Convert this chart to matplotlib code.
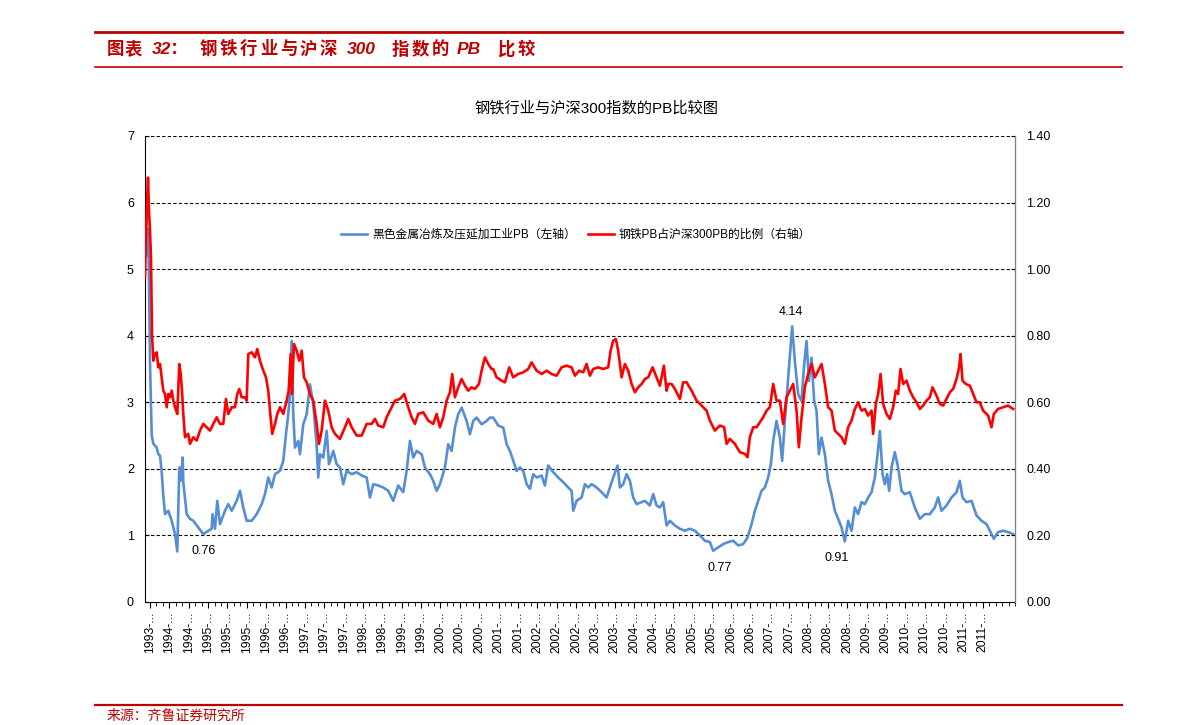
import matplotlib
matplotlib.use("Agg")
import matplotlib.pyplot as plt
import numpy as np
from matplotlib.lines import Line2D

plt.rcParams['font.family'] = ['Liberation Sans', 'Noto Sans CJK SC']
plt.rcParams['axes.unicode_minus'] = False

# ---------------- data ----------------
# t: trading-period index along the category axis
blue_t = [1.0, 2.5, 3.3, 4.3, 5.0, 6.7, 8.3, 11.7, 13.3, 15.0, 16.7, 18.3, 20.0, 23.3, 26.7, 30.0,
          32.3, 34.3, 35.7, 37.7, 38.3, 41.7, 45.0, 48.3, 53.3, 58.3, 63.3, 66.7, 67.5, 70.0, 72.3,
          75.0, 80.0, 83.3, 86.7, 91.7, 95.0, 98.3, 101.7, 106.7, 111.7, 116.7, 120.0, 123.3, 126.7,
          130.0, 135.0, 138.3, 141.0, 143.3, 145.0, 146.7, 148.3, 150.0, 153.3, 155.0, 158.3, 161.7,
          165.0, 168.3, 171.7, 173.3, 175.0, 178.3, 181.7, 184.0, 188.3, 191.7, 195.0, 198.3, 201.7,
          206.7, 211.7, 216.7, 221.7, 225.0, 228.3, 233.3, 238.3, 243.3, 248.3, 253.3, 258.3, 261.7,
          265.0, 268.3, 271.7, 276.7, 280.0, 285.0, 288.3, 291.7, 295.0, 300.0, 303.3, 306.7, 310.0,
          313.3, 316.7, 321.7, 325.0, 328.3, 331.7, 336.7, 341.7, 345.0, 348.3, 353.3, 358.3, 361.7,
          365.0, 368.3, 371.7, 375.0, 378.3, 381.7, 385.0, 388.3, 391.7, 396.7, 400.0, 403.3, 408.3,
          413.3, 418.3, 423.3, 426.7, 428.3, 431.7, 436.7, 440.0, 443.3, 446.7, 451.7, 456.7, 461.7,
          465.0, 468.3, 472.7, 475.0, 478.3, 481.7, 485.0, 488.3, 491.7, 496.7, 500.0, 505.0, 508.3,
          511.7, 515.0, 518.3, 521.7, 525.0, 530.0, 535.0, 540.0, 545.0, 550.0, 555.0, 560.0, 565.0,
          568.3, 573.3, 578.3, 583.3, 588.3, 593.3, 598.3, 602.7, 606.7, 610.0, 613.3, 616.7, 620.0,
          623.3, 626.0, 628.3, 631.7, 635.0, 637.3, 640.0, 643.3, 646.0, 647.3, 650.0, 653.3, 656.7,
          659.3, 661.7, 664.0, 666.7, 669.3, 671.7, 674.0, 676.7, 680.0, 683.3, 686.7, 690.0, 693.3,
          696.7, 700.0, 703.3, 706.7, 710.0, 713.3, 716.7, 720.0, 723.3, 726.7, 730.0, 732.7, 735.0,
          737.7, 740.0, 742.3, 744.3, 746.7, 750.0, 753.3, 756.7, 760.0, 765.0, 770.0, 775.0, 780.0,
          785.0, 790.0, 793.3, 796.7, 801.7, 806.7, 811.7, 815.0, 817.7, 821.7, 826.7, 831.7, 836.7,
          841.7, 846.7, 849.0, 853.3, 858.3, 863.3, 868.3]
steel_pb = [5.78, 5.2, 5.6, 4.5, 3.6, 2.5, 2.38, 2.32, 2.22, 2.2, 1.95, 1.6, 1.32, 1.37, 1.22, 1.02,
            0.76, 2.02, 1.82, 2.17, 1.8, 1.32, 1.25, 1.22, 1.12, 1.02, 1.07, 1.1, 1.32, 1.1, 1.52,
            1.17, 1.37, 1.47, 1.37, 1.52, 1.67, 1.42, 1.22, 1.22, 1.32, 1.47, 1.62, 1.87, 1.72,
            1.92, 1.97, 2.12, 2.52, 2.82, 3.12, 3.92, 2.82, 2.32, 2.42, 2.22, 2.67, 2.82,
            3.27, 2.97, 2.35, 1.87, 2.22, 2.17, 2.57, 2.07, 2.27, 2.07, 2.02, 1.77, 1.97,
            1.92, 1.95, 1.9, 1.87, 1.57, 1.77, 1.75, 1.72, 1.67, 1.52, 1.75, 1.65, 1.97,
            2.42, 2.17, 2.27, 2.22, 2.02, 1.92, 1.82, 1.67, 1.77, 2.02, 2.37, 2.27, 2.62,
            2.82, 2.92, 2.72, 2.52, 2.72, 2.77, 2.67, 2.72, 2.77, 2.77, 2.65, 2.62, 2.37,
            2.27, 2.12, 1.97, 2.02, 1.97, 1.77, 1.7, 1.92, 1.87, 1.9, 1.75, 2.05, 1.95,
            1.87, 1.8, 1.72, 1.67, 1.37, 1.52, 1.57, 1.77, 1.72, 1.77, 1.72, 1.65, 1.57,
            1.72, 1.87, 2.05, 1.72, 1.77, 1.92, 1.82, 1.57, 1.47, 1.5, 1.52, 1.45, 1.62,
            1.45, 1.42, 1.5, 1.15, 1.22, 1.15, 1.1, 1.07, 1.1, 1.07, 1.0, 0.92, 0.9,
            0.77, 0.82, 0.87, 0.9, 0.92, 0.85, 0.87, 0.97, 1.17, 1.37, 1.52, 1.67, 1.72,
            1.87, 2.07, 2.42, 2.72, 2.47, 2.12, 2.72, 3.37, 3.92, 4.14, 3.62, 3.12, 3.02,
            3.57, 3.92, 3.32, 3.67, 3.02, 2.87, 2.22, 2.47, 2.22, 1.82, 1.62, 1.37, 1.25,
            1.12, 0.91, 1.22, 1.07, 1.42, 1.32, 1.5, 1.47, 1.57, 1.65, 1.87, 2.22, 2.57,
            1.92, 1.77, 1.92, 1.67, 2.02, 2.25, 2.02, 1.67, 1.62, 1.65, 1.42, 1.25, 1.32,
            1.32, 1.42, 1.57, 1.37, 1.45, 1.57, 1.65, 1.82, 1.57, 1.5, 1.52, 1.3, 1.22,
            1.17, 1.02, 0.95, 1.05, 1.07, 1.05, 1.02]

red_t = [0.0, 1.7, 3.0, 4.0, 5.0, 6.0, 7.0, 8.3, 10.0, 11.7, 13.3, 15.0, 16.7, 18.3, 20.0, 21.7,
         23.3, 25.0, 26.7, 28.3, 30.0, 32.3, 34.3, 35.7, 37.0, 38.3, 40.0, 43.3, 45.0, 48.3, 51.7,
         55.0, 58.3, 61.7, 65.0, 68.3, 71.7, 75.0, 78.3, 81.0, 83.3, 86.7, 90.0, 92.3, 94.3, 96.7,
         100.0, 101.7, 103.3, 106.7, 110.0, 112.3, 115.0, 118.3, 121.0, 123.3, 125.0, 127.3, 130.0,
         132.3, 135.0, 138.3, 141.7, 143.7, 145.7, 147.0, 149.0, 151.7, 154.3, 156.7, 159.0, 161.7,
         165.0, 168.3, 171.7, 174.0, 176.7, 180.0, 183.3, 186.7, 190.0, 195.0, 200.0, 203.3, 206.7,
         211.7, 216.7, 221.7, 226.7, 230.0, 233.3, 238.3, 241.7, 245.0, 250.0, 255.0, 259.3, 263.3,
         266.7, 270.0, 273.3, 278.3, 283.3, 288.3, 291.7, 295.0, 298.3, 301.7, 305.0, 307.3, 310.0,
         313.3, 316.7, 320.0, 323.3, 326.7, 330.0, 334.0, 336.7, 340.0, 343.3, 346.7, 348.3, 351.7,
         356.7, 360.0, 364.3, 368.3, 373.3, 378.3, 383.3, 386.7, 391.7, 396.7, 401.7, 406.7, 411.7,
         416.7, 421.7, 426.7, 430.0, 434.3, 438.3, 441.7, 445.0, 448.3, 453.3, 458.3, 463.3, 465.7,
         468.3, 471.0, 473.3, 476.7, 480.0, 483.3, 486.7, 490.0, 493.3, 496.7, 500.0, 503.3, 507.7,
         511.7, 515.0, 519.0, 521.7, 523.3, 526.7, 530.0, 535.0, 538.3, 541.7, 546.7, 551.7, 556.7,
         561.7, 565.0, 570.0, 575.0, 579.3, 581.7, 585.0, 590.0, 595.0, 600.0, 602.7, 605.0, 608.3,
         611.7, 615.0, 618.3, 621.7, 625.0, 628.3, 631.7, 635.0, 638.3, 641.7, 645.0, 648.3, 651.7,
         654.0, 656.7, 660.0, 663.3, 666.7, 670.0, 673.3, 676.7, 680.0, 683.3, 686.7, 690.0, 693.3,
         696.7, 700.0, 703.3, 706.7, 710.0, 713.3, 716.7, 720.0, 723.3, 726.7, 728.3, 731.0, 733.3,
         735.7, 738.3, 741.7, 745.0, 748.3, 751.0, 753.3, 755.7, 758.3, 761.7, 765.0, 768.3, 771.7,
         775.0, 778.3, 781.7, 785.0, 787.7, 791.7, 795.0, 798.3, 801.7, 805.0, 808.3, 811.7, 814.3,
         815.7, 817.7, 821.0, 825.0, 828.3, 831.7, 835.0, 838.3, 843.3, 846.7, 849.0, 853.3, 858.3,
         863.3, 868.3]
ratio = [0.975, 1.175, 1.275, 1.175, 1.115, 1.035, 0.805, 0.725, 0.745, 0.75, 0.705, 0.715, 0.675,
         0.635, 0.625, 0.585, 0.625, 0.615, 0.635, 0.605, 0.585, 0.565, 0.715, 0.685, 0.635, 0.565,
         0.495, 0.505, 0.475, 0.495, 0.485, 0.515, 0.535, 0.525, 0.515, 0.535, 0.555, 0.535, 0.535,
         0.61, 0.565, 0.585, 0.585, 0.625, 0.64, 0.615, 0.615, 0.605, 0.745, 0.75, 0.735, 0.76,
         0.725, 0.695, 0.675, 0.635, 0.575, 0.505, 0.535, 0.565, 0.585, 0.565, 0.605, 0.635, 0.745,
         0.625, 0.775, 0.755, 0.725, 0.755, 0.675, 0.66, 0.625, 0.605, 0.535, 0.475, 0.515, 0.605,
         0.575, 0.525, 0.505, 0.49, 0.525, 0.55, 0.525, 0.5, 0.5, 0.535, 0.535, 0.55, 0.53, 0.525,
         0.555, 0.575, 0.605, 0.61, 0.625, 0.585, 0.555, 0.535, 0.565, 0.57, 0.545, 0.535, 0.565,
         0.525, 0.555, 0.605, 0.63, 0.685, 0.615, 0.645, 0.67, 0.65, 0.635, 0.645, 0.64, 0.655,
         0.695, 0.735, 0.715, 0.7, 0.7, 0.675, 0.665, 0.66, 0.705, 0.675, 0.685, 0.69, 0.7, 0.72,
         0.695, 0.685, 0.695, 0.685, 0.68, 0.705, 0.71, 0.705, 0.68, 0.695, 0.69, 0.715, 0.68, 0.7,
         0.705, 0.7, 0.705, 0.755, 0.785, 0.79, 0.755, 0.675, 0.715, 0.695, 0.655, 0.63, 0.645,
         0.655, 0.67, 0.675, 0.705, 0.675, 0.65, 0.71, 0.635, 0.655, 0.655, 0.64, 0.61, 0.66, 0.66,
         0.635, 0.605, 0.59, 0.575, 0.545, 0.515, 0.53, 0.525, 0.475, 0.49, 0.475, 0.45, 0.445,
         0.435, 0.495, 0.525, 0.525, 0.54, 0.555, 0.575, 0.585, 0.655, 0.605, 0.605, 0.535, 0.615,
         0.635, 0.655, 0.575, 0.465, 0.555, 0.645, 0.685, 0.715, 0.675, 0.695, 0.715, 0.655, 0.585,
         0.575, 0.515, 0.505, 0.495, 0.475, 0.525, 0.545, 0.58, 0.6, 0.575, 0.58, 0.56, 0.575,
         0.505, 0.595, 0.625, 0.685, 0.595, 0.565, 0.55, 0.585, 0.635, 0.625, 0.7, 0.655, 0.665,
         0.635, 0.615, 0.6, 0.58, 0.59, 0.605, 0.615, 0.645, 0.62, 0.595, 0.59, 0.61, 0.63, 0.64,
         0.67, 0.705, 0.745, 0.665, 0.655, 0.65, 0.625, 0.6, 0.6, 0.575, 0.56, 0.525, 0.565, 0.58,
         0.585, 0.59, 0.58]

tick_years = [1993, 1994, 1994, 1995, 1995, 1995, 1996, 1996, 1997, 1997, 1997, 1998, 1998,
              1999, 1999, 2000, 2000, 2000, 2001, 2001, 2002, 2002, 2002, 2003, 2003, 2004,
              2004, 2005, 2005, 2005, 2006, 2006, 2007, 2007, 2008, 2008, 2008, 2009, 2009,
              2010, 2010, 2010, 2011, 2011]

annotations = [("0.76", 59, 0.77), ("0.77", 575, 0.51), ("0.91", 692, 0.66), ("4.14", 646, 4.36)]

label_blue = "黑色金属冶炼及压延加工业PB（左轴）"
label_red = "钢铁PB占沪深300PB的比例（右轴）"
header_pieces = ["图", "表", "32：", "钢", "铁", "行", "业", "与", "沪", "深", "300",
                 "指", "数", "的", "PB", "比", "较"]
source_text = "来源：齐鲁证券研究所"
chart_title = "钢铁行业与沪深300指数的PB比较图"

# ---------------- figure ----------------
W, H = 1191, 725
fig = plt.figure(figsize=(W / 100, H / 100), dpi=100)

def fx(px):
    return px / W

def fy(py):
    return 1 - py / H

HEAD_RED = '#C00000'
# header rules
fig.add_artist(Line2D([fx(95), fx(1122)], [fy(32), fy(32)], color=HEAD_RED, lw=2.0))
fig.add_artist(Line2D([fx(95), fx(1122)], [fy(67), fy(67)], color=HEAD_RED, lw=1.2))
fig.add_artist(Line2D([fx(95), fx(1122)], [fy(705), fy(705)], color=HEAD_RED, lw=1.6))

# header title, letter-spaced like the reference
header_x = [107, 125, 152, 200, 220, 240, 260, 280, 300, 320, 347, 392, 412, 432, 457, 497, 517]
for piece, px in zip(header_pieces, header_x):
    fig.text(fx(px), fy(49), piece, color=HEAD_RED, fontsize=12.5, fontweight='bold',
             fontstyle='italic', va='center', ha='left')

fig.text(fx(107), fy(709), source_text, color=HEAD_RED, fontsize=10,
         va='top', ha='left')
fig.text(fx(597), fy(108), chart_title, fontsize=11, ha='center',
         va='center', color='black')

ax = fig.add_axes([fx(145), fy(602), fx(1015) - fx(145), fy(136) - fy(602)])
ax2 = ax.twinx()

blue_c = '#558ED5'
red_c = '#FF0000'
ax.plot(blue_t, steel_pb, color=blue_c, lw=1.9, solid_joinstyle='round')
ax2.plot(red_t, ratio, color=red_c, lw=1.9, solid_joinstyle='round')

ax.set_xlim(0, 870)
ax.set_ylim(0, 7)
ax2.set_ylim(0, 1.4)

ax.set_yticks(np.arange(0, 8, 1))
ax.set_yticklabels([str(v) for v in range(8)], fontsize=9)
ax2.set_yticks(np.arange(0, 1.41, 0.2))
ax2.set_yticklabels([f"{v:.2f}" for v in np.arange(0, 1.41, 0.2)], fontsize=9)

for v in range(1, 8):
    ax.axhline(v, color='black', lw=0.8, ls=(0, (3, 2)), zorder=0.5)

step = 19.37
major = 5 + step * np.arange(len(tick_years))
ax.set_xticks(major)
ax.set_xticklabels([f"{y}-..." for y in tick_years], rotation=90, fontsize=8.7)
ax.set_xticks(5 + (step / 3) * np.arange(0, 135), minor=True)
ax.tick_params(axis='x', which='major', length=4, direction='out', pad=3)
ax.tick_params(axis='x', which='minor', length=3, direction='out')
ax.tick_params(axis='y', length=3, direction='in', pad=8)
ax2.tick_params(axis='y', length=3, direction='in', pad=8)

ax.spines['top'].set_visible(False)
ax2.spines['top'].set_visible(False)
ax.spines['left'].set_color('black')
ax.spines['bottom'].set_color('black')
ax2.spines['right'].set_color('#808080')
ax2.spines['left'].set_visible(False)
ax2.spines['bottom'].set_visible(False)

for txt, t, v in annotations:
    ax.text(t, v, txt, fontsize=9, ha='center', va='center', color='black')

handles = [Line2D([], [], color=blue_c, lw=1.9), Line2D([], [], color=red_c, lw=1.9)]
ax2.legend(handles, [label_blue, label_red], loc='center',
           bbox_to_anchor=((576 - 145) / 870, (602 - 235) / 466), ncol=2, frameon=False,
           fontsize=8.5, handlelength=2.2, columnspacing=1.0, handletextpad=0.4)

fig.savefig("out.png", dpi=100)
